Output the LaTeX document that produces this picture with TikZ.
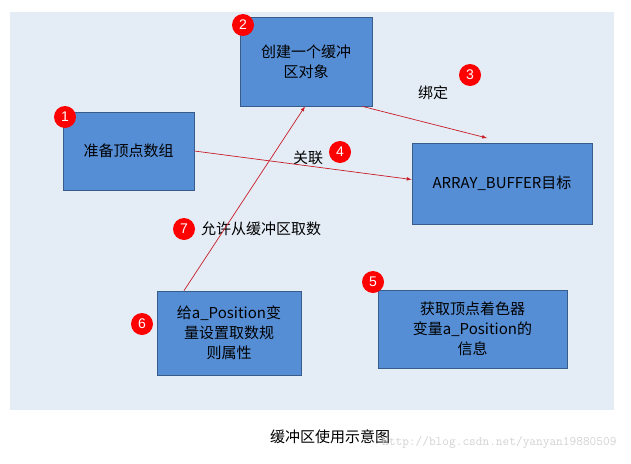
\documentclass[tikz,border=0pt]{standalone}
\usepackage{fontspec}
\setmainfont{Liberation Sans}
\newfontfamily\cjk{Noto Sans CJK SC}
\definecolor{bg-blue}{RGB}{228,236,246}
\definecolor{box-blue}{RGB}{85,142,213}
\definecolor{box-edge}{RGB}{56,93,138}
\definecolor{mark-red}{RGB}{255,0,0}
\definecolor{arrow-red}{RGB}{200,30,40}
\usetikzlibrary{positioning}

\tikzset{
    stepbox/.style={draw=box-edge, line width=0.8pt, fill=box-blue, align=center,
        font=\cjk\fontsize{15}{20}\selectfont, inner sep=2pt},
    badge/.style={circle, fill=mark-red, text=white, minimum size=22pt, inner sep=0pt,
        font=\fontsize{14}{14}\selectfont},
    note/.style={font=\cjk\fontsize{15}{18}\selectfont, inner sep=0pt},
    link/.style={draw=arrow-red, line width=0.7pt, -latex}
}

\begin{document}
\begin{tikzpicture}[x=1pt, y=-1pt]
\useasboundingbox (0,0) rectangle (631,463);

% Background panel
\fill[bg-blue] (10,12) rectangle (614,410);

% Boxes
\node[stepbox, minimum width=131pt, minimum height=78pt] (vertices) at (128.5,151) {准备顶点数组};
\node[stepbox, minimum width=132pt, minimum height=89pt] (buffer) at (306,61.5) {创建一个缓冲\\区对象};
\node[stepbox, minimum width=180pt, minimum height=81pt] (target) at (502,183.5) {ARRAY\_BUFFER目标};
\node[stepbox, minimum width=189pt, minimum height=78pt] (attrib) at (472.5,329) {获取顶点着色器\\变量a\_Position的\\信息};
\node[stepbox, minimum width=144pt, minimum height=84pt] (pointer) at (229,333) {给a\_Position变\\量设置取数规\\则属性};

% Numbered badges
\node[badge] (n1) at (65,117) {1};
\node[badge] (n2) at (243,25) {2};
\node[badge] (n3) at (470,75) {3};
\node[badge] (n4) at (340,152) {4};
\node[badge] (n5) at (373,282) {5};
\node[badge] (n6) at (142,324) {6};
\node[badge] (n7) at (184,229) {7};

% Labels
\node[note] (bind) at (433,93) {绑定};
\node[note] (assoc) at (308,158) {关联};
\node[note, anchor=west] (allow) at (201,229) {允许从缓冲区取数};

% Connectors
\coordinate (target-in) at (487,138);
\draw[link] ([xshift=-10pt]buffer.south east) -- (target-in);
\draw[link] (vertices.east) -- ([yshift=4pt]target.west);
\draw[link] ([xshift=-45pt]pointer.north) -- ([xshift=-1pt]buffer.south);

% Caption
\node[note] (caption) at (330,437) {缓冲区使用示意图};
\node[font=\ttfamily\fontsize{13}{13}\selectfont, text=gray!35, anchor=east] (mark) at (620,442) {http://blog.csdn.net/yanyan19880509};
\end{tikzpicture}
\end{document}
